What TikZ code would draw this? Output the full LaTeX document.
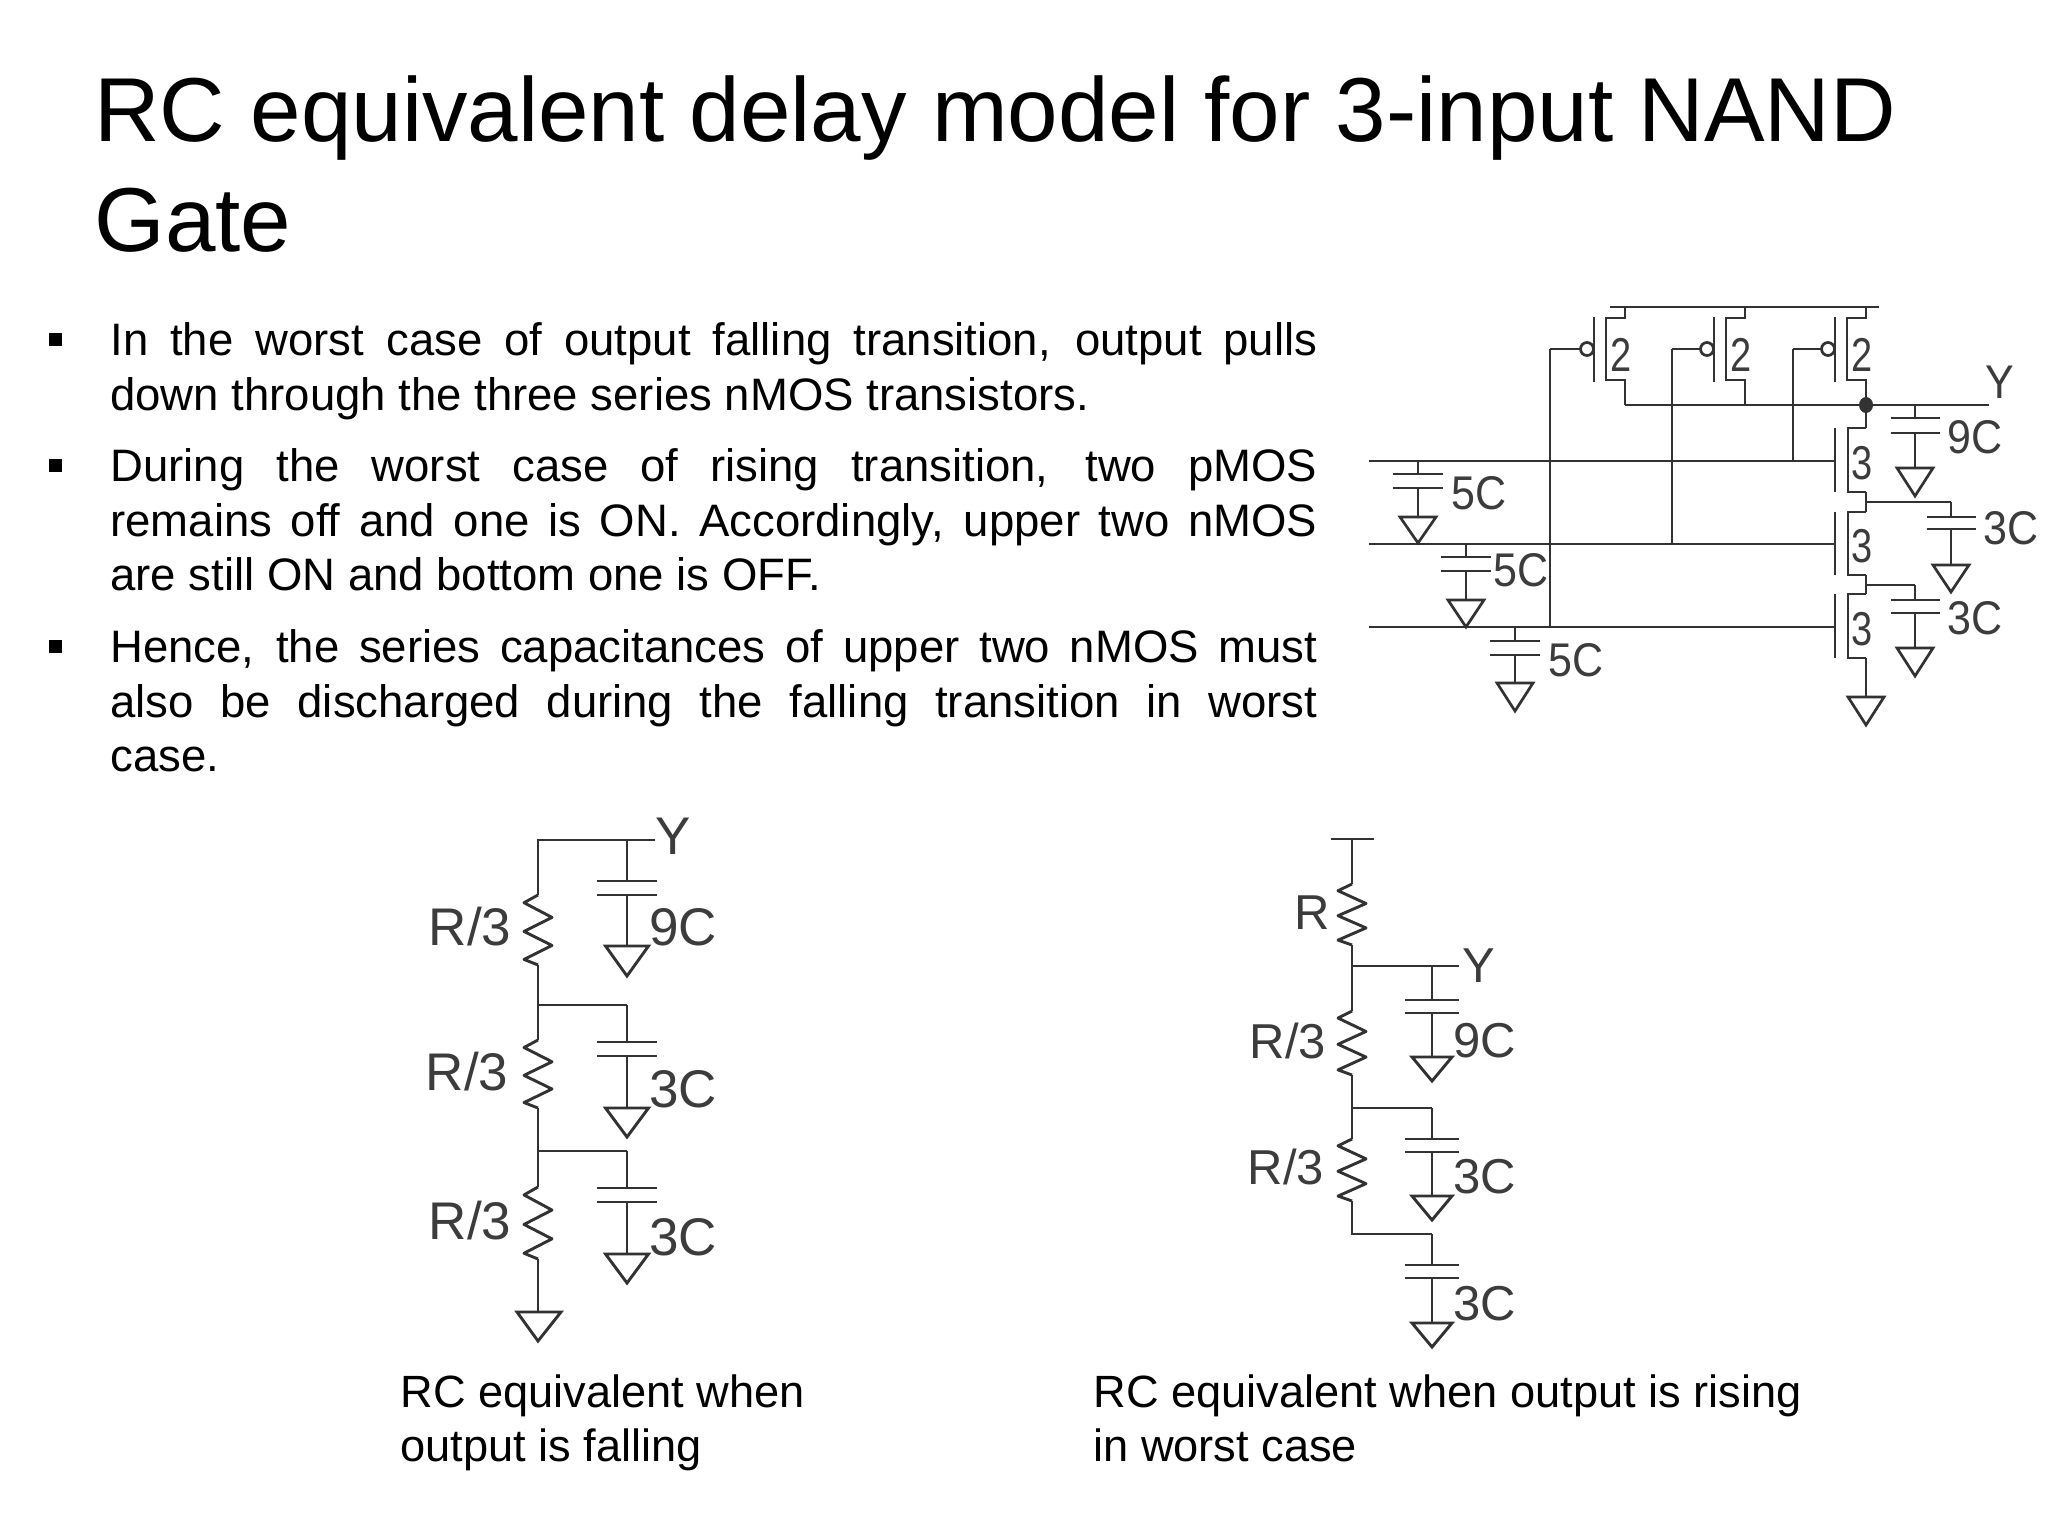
\documentclass[tikz,border=0pt]{standalone}
\usepackage{fontspec}
\setmainfont{Liberation Sans}
\usepackage{graphicx}
\usetikzlibrary{calc}
\definecolor{mywire}{RGB}{50, 50, 50}
\definecolor{mytext}{RGB}{60, 60, 60}
\newcommand{\lab}[1]{\scalebox{1}[1.1]{\fontsize{21.5}{24}\selectfont #1}}
\newcommand{\dig}[1]{\scalebox{1}[1.25]{\fontsize{19}{20}\selectfont #1}}
\newcommand{\laba}[1]{\fontsize{26.5}{30}\selectfont #1}
\newcommand{\labb}[1]{\fontsize{24.5}{28}\selectfont #1}
% wire x, wire from, plate 1, plate 2, triangle top, apex, half plate, half triangle
\newcommand{\capg}[8]{
\draw[w] (#1,#2) -- (#1,#3);
\draw[w] (#1-#7,#3) -- (#1+#7,#3);
\draw[w] (#1-#7,#4) -- (#1+#7,#4);
\draw[w] (#1,#4) -- (#1,#5);
\draw[w] (#1-#8,#5) -- (#1+#8,#5) -- (#1,#6) -- cycle;
}
% zigzag: x, top, bottom, half width
\newcommand{\res}[4]{
\draw[w, line join=round] (#1,#2)
-- ($(#1-#4,#2)!0.11!(#1-#4,#3)$)
-- ($(#1+#4,#2)!0.32!(#1+#4,#3)$)
-- ($(#1-#4,#2)!0.52!(#1-#4,#3)$)
-- ($(#1+#4,#2)!0.72!(#1+#4,#3)$)
-- ($(#1-#4,#2)!0.92!(#1-#4,#3)$)
-- (#1,#3);
}
\begin{document}
\begin{tikzpicture}[
    x = 0.5pt, y = -0.5pt,
    w/.style = {line width = 1.45pt, draw = mywire},
    t/.style = {line width = 1.35pt, draw = mywire},
    lb/.style = {text = mytext, inner sep = 0pt},
    para/.style = {anchor = north west, inner sep = 0pt, text width = 603.5pt, align = justify, font = \fontsize{22.75}{27.4}\selectfont},
    bul/.style = {fill = black, inner sep = 0pt, minimum size = 6.5pt},
    capt/.style = {anchor = base west, inner sep = 0pt, align = left, font = \fontsize{22.6}{26.6}\selectfont},
    ttl/.style = {anchor = base west, inner sep = 0pt, font = \fontsize{45.4}{54}\selectfont},
]
\useasboundingbox[fill = white] (0,0) rectangle (2048,1536);

\node[ttl] (title1) at (94,141) {RC equivalent delay model for 3-input NAND};
\node[ttl] (title2) at (94,251) {Gate};

\node[bul] (b1) at (55,339) {};
\node[para] (p1) at (110,322) {In the worst case of output falling transition, output pulls\linebreak down through the three series nMOS transistors.};
\node[bul] (b2) at (55,465) {};
\node[para] (p2) at (110,448) {During the worst case of rising transition, two pMOS\linebreak remains off and one is ON. Accordingly, upper two nMOS\linebreak are still ON and bottom one is OFF.};
\node[bul] (b3) at (55,646) {};
\node[para] (p3) at (110,629) {Hence, the series capacitances of upper two nMOS must\linebreak also be discharged during the falling transition in worst\linebreak case.};

% gate schematic
\draw[t] (1610,307) -- (1879,307);
\foreach \s/\g/\n in {1625/1550/a, 1745/1672/b, 1866/1793/c}{
\draw[t] (\s,307) -- (\s,318) -- (\s-19,318) -- (\s-19,380) -- (\s,380) -- (\s,405);
\draw[t] (\s-31,317) -- (\s-31,382);
\draw[t] (\s-38,349) circle (6.5);
\draw[t] (\s-44.5,349) -- (\g,349);
\node[lb] (p\n) at (\s-4,355) {\dig{2}};
}
\draw[t] (1625,405) -- (1989,405);
\fill[mywire] (1866,405) ellipse (7 and 8);
\node[lb] (yout) at (2000,382) {\lab{Y}};

\foreach \a/\b/\g/\n in {428/492/461/d, 512/575/544/e, 594/658/627/f}{
\draw[t] (1866,\a) -- (1848,\a) -- (1848,\b) -- (1866,\b);
\draw[t] (1835,\a) -- (1835,\b);
\draw[t] (1369,\g) -- (1835,\g);
\node[lb] (n\n) at (1862,\g+2) {\dig{3}};
}
\draw[t] (1866,405) -- (1866,428);
\draw[t] (1866,492) -- (1866,512);
\draw[t] (1866,575) -- (1866,594);
\draw[t] (1866,658) -- (1866,697);
\draw[t] (1848,697) -- (1884,697) -- (1866,725) -- cycle;

\draw[t] (1550,349) -- (1550,627);
\draw[t] (1672,349) -- (1672,544);
\draw[t] (1793,349) -- (1793,461);

\draw[t] (1866,502) -- (1951,502);
\draw[t] (1866,585) -- (1915,585);

\begin{scope}[w/.style = {t}]
\capg{1915}{405}{418}{433}{468}{496}{24.5}{18}
\capg{1951}{502}{517}{529}{565}{592}{24.5}{18}
\capg{1915}{585}{600}{613}{648}{676}{24.5}{18}
\capg{1418}{461}{474}{488}{517}{543}{25}{18}
\capg{1466}{544}{557}{571}{600}{627}{25}{18}
\capg{1515}{627}{641}{655}{683}{711}{25}{18}
\end{scope}
\node[lb] (c9) at (1975,437) {\lab{9C}};
\node[lb] (c3a) at (2011,528) {\lab{3C}};
\node[lb] (c3b) at (1975,618) {\lab{3C}};
\node[lb] (c5a) at (1479,493) {\lab{5C}};
\node[lb] (c5b) at (1521,570) {\lab{5C}};
\node[lb] (c5c) at (1576,660) {\lab{5C}};

% falling
\draw[w] (655,840) -- (538,840) -- (538,895);
\res{538}{895}{965}{14}
\draw[w] (538,965) -- (538,1040);
\res{538}{1040}{1108}{14}
\draw[w] (538,1108) -- (538,1187);
\res{538}{1187}{1259}{14}
\draw[w] (538,1259) -- (538,1312);
\draw[w] (517,1312) -- (561,1312) -- (538,1341) -- cycle;
\draw[w] (538,1005) -- (627,1005);
\draw[w] (538,1151) -- (627,1151);
\capg{627}{840}{881}{895}{946}{976}{30}{21.5}
\capg{627}{1005}{1042}{1056}{1108}{1137}{30}{21.5}
\capg{627}{1151}{1188}{1202}{1254}{1283}{30}{21.5}
\node[lb] (ya) at (673,836) {\laba{Y}};
\node[lb] (ca) at (683,927) {\laba{9C}};
\node[lb] (cb) at (683,1089) {\laba{3C}};
\node[lb] (cc) at (683,1237) {\laba{3C}};
\node[lb] (ra) at (470,927) {\laba{R/3}};
\node[lb] (rb) at (467,1072) {\laba{R/3}};
\node[lb] (rc) at (470,1221) {\laba{R/3}};

% rising
\draw[w] (1331,839) -- (1374,839);
\draw[w] (1352,839) -- (1352,884);
\res{1352}{884}{945}{14}
\draw[w] (1352,945) -- (1352,1011);
\res{1352}{1011}{1075}{14}
\draw[w] (1352,1075) -- (1352,1139);
\res{1352}{1139}{1201}{14}
\draw[w] (1352,1201) -- (1352,1234) -- (1432,1234);
\draw[w] (1352,966) -- (1459,966);
\draw[w] (1352,1108) -- (1432,1108);
\capg{1432}{966}{1000}{1013}{1057}{1081}{27}{20}
\capg{1432}{1108}{1139}{1152}{1196}{1220}{27}{20}
\capg{1432}{1234}{1265}{1278}{1323}{1347}{27}{20}
\node[lb] (yb) at (1479,966) {\labb{Y}};
\node[lb] (cd) at (1485,1041) {\labb{9C}};
\node[lb] (ce) at (1485,1177) {\labb{3C}};
\node[lb] (cf) at (1485,1304) {\labb{3C}};
\node[lb] (rd) at (1312,913) {\labb{R}};
\node[lb] (re) at (1288,1041) {\labb{R/3}};
\node[lb] (rf) at (1286,1167) {\labb{R/3}};

\node[capt] (cap1) at (400,1461) {RC equivalent when\\output is falling};
\node[capt] (cap2) at (1093,1461) {RC equivalent when output is rising\\in worst case};

\end{tikzpicture}
\end{document}
